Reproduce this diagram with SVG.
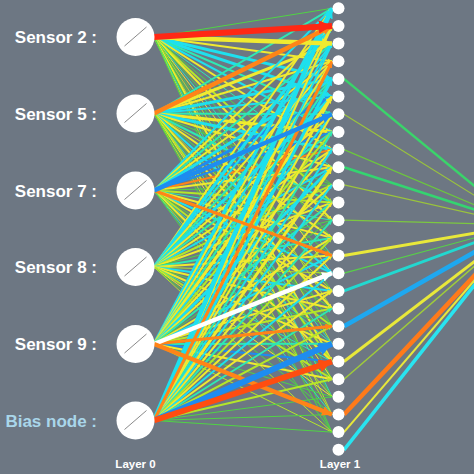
<svg xmlns="http://www.w3.org/2000/svg" width="474" height="474" viewBox="0 0 474 474">
<style>
.bg{fill:#6d7783}
.lbl{font-family:"Liberation Sans",Arial,sans-serif;font-weight:bold;font-size:17px;fill:#ffffff;text-anchor:end}
.bias{fill:#a9d6ea}
.lay{font-family:"Liberation Sans",Arial,sans-serif;font-weight:bold;font-size:11.5px;fill:#ffffff;text-anchor:middle}
.in0{fill:#ffffff}
.diag{stroke:#8a8a8a;stroke-width:1}
.hid{fill:#ffffff}
line{fill:none}
.y{stroke:#f0ea30}.yg{stroke:#b4e62a}.g{stroke:#50d444}.t{stroke:#2ee8b4}.c{stroke:#1ee0ee}
.b{stroke:#1e8cf0}.o{stroke:#ff8418}.r{stroke:#ff2814}.ro{stroke:#ff4d10}.w{stroke:#ffffff}
.in .y{marker-end:url(#m-y)}.in .yg{marker-end:url(#m-yg)}.in .g{marker-end:url(#m-g)}.in .t{marker-end:url(#m-t)}
.in .c{marker-end:url(#m-c)}.in .b{marker-end:url(#m-b)}.in .o{marker-end:url(#m-o)}.in .r{marker-end:url(#m-r)}
.in .ro{marker-end:url(#m-ro)}.in .w{marker-end:url(#m-w)}
.w1{stroke-width:1}.w2{stroke-width:2}.w3{stroke-width:3}.w4{stroke-width:4.5}.w6{stroke-width:6}
</style>
<defs>
<marker id="m-y" viewBox="0 0 10 10" refX="10" refY="5" markerWidth="2.2" markerHeight="2.2" orient="auto"><path d="M0,0L10,5L0,10z" fill="#f0ea30"/></marker>
<marker id="m-yg" viewBox="0 0 10 10" refX="10" refY="5" markerWidth="2.2" markerHeight="2.2" orient="auto"><path d="M0,0L10,5L0,10z" fill="#b4e62a"/></marker>
<marker id="m-g" viewBox="0 0 10 10" refX="10" refY="5" markerWidth="2.2" markerHeight="2.2" orient="auto"><path d="M0,0L10,5L0,10z" fill="#50d444"/></marker>
<marker id="m-t" viewBox="0 0 10 10" refX="10" refY="5" markerWidth="2.2" markerHeight="2.2" orient="auto"><path d="M0,0L10,5L0,10z" fill="#2ee8b4"/></marker>
<marker id="m-c" viewBox="0 0 10 10" refX="10" refY="5" markerWidth="2.2" markerHeight="2.2" orient="auto"><path d="M0,0L10,5L0,10z" fill="#1ee0ee"/></marker>
<marker id="m-b" viewBox="0 0 10 10" refX="10" refY="5" markerWidth="2.2" markerHeight="2.2" orient="auto"><path d="M0,0L10,5L0,10z" fill="#1e8cf0"/></marker>
<marker id="m-o" viewBox="0 0 10 10" refX="10" refY="5" markerWidth="2.2" markerHeight="2.2" orient="auto"><path d="M0,0L10,5L0,10z" fill="#ff8418"/></marker>
<marker id="m-r" viewBox="0 0 10 10" refX="10" refY="5" markerWidth="2.2" markerHeight="2.2" orient="auto"><path d="M0,0L10,5L0,10z" fill="#ff2814"/></marker>
<marker id="m-ro" viewBox="0 0 10 10" refX="10" refY="5" markerWidth="2.2" markerHeight="2.2" orient="auto"><path d="M0,0L10,5L0,10z" fill="#ff4d10"/></marker>
<marker id="m-w" viewBox="0 0 10 10" refX="10" refY="5" markerWidth="2.2" markerHeight="2.2" orient="auto"><path d="M0,0L10,5L0,10z" fill="#ffffff"/></marker>
</defs>
<rect class="bg" x="0" y="0" width="474" height="474"/>
<g id="connectors">
<g class="in">
<!-- Sensor 2 -->
<line class="g w1" x1="154" y1="37" x2="332" y2="8.3"/>
<line class="y w2" x1="154" y1="37" x2="332" y2="61.3"/>
<line class="c w3" x1="154" y1="37" x2="332" y2="78.9"/>
<line class="c w3" x1="154" y1="37" x2="332" y2="96.6"/>
<line class="t w2" x1="154" y1="37" x2="332" y2="114.3"/>
<line class="c w2" x1="154" y1="37" x2="332" y2="131.9"/>
<line class="y w2" x1="154" y1="37" x2="332" y2="149.6"/>
<line class="t w1" x1="154" y1="37" x2="332" y2="167.2"/>
<line class="g w1" x1="154" y1="37" x2="332" y2="184.9"/>
<line class="yg w2" x1="154" y1="37" x2="332" y2="202.6"/>
<line class="y w2" x1="154" y1="37" x2="332" y2="220.2"/>
<line class="g w1" x1="154" y1="37" x2="332" y2="237.9"/>
<line class="t w1" x1="154" y1="37" x2="332" y2="255.5"/>
<line class="y w1" x1="154" y1="37" x2="332" y2="273.2"/>
<line class="g w1" x1="154" y1="37" x2="332" y2="290.9"/>
<line class="yg w1" x1="154" y1="37" x2="332" y2="308.5"/>
<line class="g w1" x1="154" y1="37" x2="332" y2="326.2"/>
<line class="yg w1" x1="154" y1="37" x2="332" y2="343.8"/>
<line class="y w2" x1="154" y1="37" x2="332" y2="361.5"/>
<line class="g w1" x1="154" y1="37" x2="332" y2="379.2"/>
<line class="t w1" x1="154" y1="37" x2="332" y2="396.8"/>
<line class="yg w1" x1="154" y1="37" x2="332" y2="414.5"/>
<line class="g w1" x1="154" y1="37" x2="332" y2="432.1"/>
<!-- Sensor 5 -->
<line class="t w2" x1="154" y1="113.5" x2="332" y2="8.3"/>
<line class="y w3" x1="154" y1="113.5" x2="332" y2="43.6"/>
<line class="y w2" x1="154" y1="113.5" x2="332" y2="61.3"/>
<line class="c w3" x1="154" y1="113.5" x2="332" y2="78.9"/>
<line class="c w2" x1="154" y1="113.5" x2="332" y2="96.6"/>
<line class="t w2" x1="154" y1="113.5" x2="332" y2="114.3"/>
<line class="y w3" x1="154" y1="113.5" x2="332" y2="131.9"/>
<line class="c w3" x1="154" y1="113.5" x2="332" y2="149.6"/>
<line class="y w2" x1="154" y1="113.5" x2="332" y2="167.2"/>
<line class="g w1" x1="154" y1="113.5" x2="332" y2="184.9"/>
<line class="t w2" x1="154" y1="113.5" x2="332" y2="202.6"/>
<line class="yg w1" x1="154" y1="113.5" x2="332" y2="220.2"/>
<line class="y w2" x1="154" y1="113.5" x2="332" y2="237.9"/>
<line class="g w1" x1="154" y1="113.5" x2="332" y2="255.5"/>
<line class="c w2" x1="154" y1="113.5" x2="332" y2="273.2"/>
<line class="yg w1" x1="154" y1="113.5" x2="332" y2="290.9"/>
<line class="y w2" x1="154" y1="113.5" x2="332" y2="308.5"/>
<line class="g w1" x1="154" y1="113.5" x2="332" y2="326.2"/>
<line class="t w1" x1="154" y1="113.5" x2="332" y2="343.8"/>
<line class="yg w2" x1="154" y1="113.5" x2="332" y2="361.5"/>
<line class="y w1" x1="154" y1="113.5" x2="332" y2="379.2"/>
<line class="g w1" x1="154" y1="113.5" x2="332" y2="396.8"/>
<line class="yg w1" x1="154" y1="113.5" x2="332" y2="414.5"/>
<line class="g w1" x1="154" y1="113.5" x2="332" y2="432.1"/>
<!-- Sensor 7 -->
<line class="c w2" x1="154" y1="190.5" x2="332" y2="8.3"/>
<line class="y w2" x1="154" y1="190.5" x2="332" y2="26"/>
<line class="t w2" x1="154" y1="190.5" x2="332" y2="43.6"/>
<line class="y w2" x1="154" y1="190.5" x2="332" y2="61.3"/>
<line class="c w3" x1="154" y1="190.5" x2="332" y2="78.9"/>
<line class="b w3" x1="154" y1="190.5" x2="332" y2="96.6"/>
<line class="b w2" x1="154" y1="190.5" x2="332" y2="131.9"/>
<line class="o w2" x1="154" y1="190.5" x2="332" y2="149.6"/>
<line class="y w2" x1="154" y1="190.5" x2="332" y2="167.2"/>
<line class="g w1" x1="154" y1="190.5" x2="332" y2="184.9"/>
<line class="yg w2" x1="154" y1="190.5" x2="332" y2="202.6"/>
<line class="t w1" x1="154" y1="190.5" x2="332" y2="220.2"/>
<line class="y w2" x1="154" y1="190.5" x2="332" y2="237.9"/>
<line class="c w2" x1="154" y1="190.5" x2="332" y2="273.2"/>
<line class="y w2" x1="154" y1="190.5" x2="332" y2="290.9"/>
<line class="g w1" x1="154" y1="190.5" x2="332" y2="308.5"/>
<line class="yg w2" x1="154" y1="190.5" x2="332" y2="326.2"/>
<line class="t w1" x1="154" y1="190.5" x2="332" y2="343.8"/>
<line class="y w2" x1="154" y1="190.5" x2="332" y2="361.5"/>
<line class="g w1" x1="154" y1="190.5" x2="332" y2="379.2"/>
<line class="yg w1" x1="154" y1="190.5" x2="332" y2="396.8"/>
<line class="t w1" x1="154" y1="190.5" x2="332" y2="414.5"/>
<line class="g w1" x1="154" y1="190.5" x2="332" y2="432.1"/>
<!-- Sensor 8 -->
<line class="y w2" x1="154" y1="267" x2="332" y2="8.3"/>
<line class="c w3" x1="154" y1="267" x2="332" y2="26"/>
<line class="c w2" x1="154" y1="267" x2="332" y2="43.6"/>
<line class="y w2" x1="154" y1="267" x2="332" y2="61.3"/>
<line class="t w2" x1="154" y1="267" x2="332" y2="78.9"/>
<line class="c w3" x1="154" y1="267" x2="332" y2="96.6"/>
<line class="y w2" x1="154" y1="267" x2="332" y2="114.3"/>
<line class="t w2" x1="154" y1="267" x2="332" y2="131.9"/>
<line class="y w2" x1="154" y1="267" x2="332" y2="149.6"/>
<line class="c w2" x1="154" y1="267" x2="332" y2="167.2"/>
<line class="yg w2" x1="154" y1="267" x2="332" y2="184.9"/>
<line class="y w2" x1="154" y1="267" x2="332" y2="202.6"/>
<line class="g w1" x1="154" y1="267" x2="332" y2="220.2"/>
<line class="t w2" x1="154" y1="267" x2="332" y2="237.9"/>
<line class="y w2" x1="154" y1="267" x2="332" y2="255.5"/>
<line class="yg w1" x1="154" y1="267" x2="332" y2="273.2"/>
<line class="c w2" x1="154" y1="267" x2="332" y2="290.9"/>
<line class="y w2" x1="154" y1="267" x2="332" y2="308.5"/>
<line class="g w1" x1="154" y1="267" x2="332" y2="326.2"/>
<line class="y w2" x1="154" y1="267" x2="332" y2="343.8"/>
<line class="t w1" x1="154" y1="267" x2="332" y2="361.5"/>
<line class="yg w2" x1="154" y1="267" x2="332" y2="379.2"/>
<line class="y w1" x1="154" y1="267" x2="332" y2="396.8"/>
<line class="g w1" x1="154" y1="267" x2="332" y2="414.5"/>
<line class="yg w1" x1="154" y1="267" x2="332" y2="432.1"/>
<!-- Sensor 9 -->
<line class="c w3" x1="154" y1="344" x2="332" y2="8.3"/>
<line class="y w2" x1="154" y1="344" x2="332" y2="26"/>
<line class="c w2" x1="154" y1="344" x2="332" y2="43.6"/>
<line class="y w2" x1="154" y1="344" x2="332" y2="61.3"/>
<line class="t w2" x1="154" y1="344" x2="332" y2="78.9"/>
<line class="y w3" x1="154" y1="344" x2="332" y2="96.6"/>
<line class="c w2" x1="154" y1="344" x2="332" y2="114.3"/>
<line class="yg w2" x1="154" y1="344" x2="332" y2="131.9"/>
<line class="y w2" x1="154" y1="344" x2="332" y2="149.6"/>
<line class="c w3" x1="154" y1="344" x2="332" y2="167.2"/>
<line class="y w2" x1="154" y1="344" x2="332" y2="184.9"/>
<line class="t w2" x1="154" y1="344" x2="332" y2="202.6"/>
<line class="g w1" x1="154" y1="344" x2="332" y2="220.2"/>
<line class="y w2" x1="154" y1="344" x2="332" y2="237.9"/>
<line class="c w2" x1="154" y1="344" x2="332" y2="255.5"/>
<line class="y w2" x1="154" y1="344" x2="332" y2="290.9"/>
<line class="yg w2" x1="154" y1="344" x2="332" y2="308.5"/>
<line class="t w2" x1="154" y1="344" x2="332" y2="343.8"/>
<line class="b w2" x1="154" y1="344" x2="332" y2="361.5"/>
<line class="y w2" x1="154" y1="344" x2="332" y2="379.2"/>
<line class="g w1" x1="154" y1="344" x2="332" y2="396.8"/>
<line class="yg w1" x1="154" y1="344" x2="332" y2="432.1"/>
<!-- Bias node -->
<line class="y w2" x1="154" y1="420.5" x2="332" y2="26"/>
<line class="c w2" x1="154" y1="420.5" x2="332" y2="43.6"/>
<line class="c w3" x1="154" y1="420.5" x2="332" y2="78.9"/>
<line class="y w2" x1="154" y1="420.5" x2="332" y2="96.6"/>
<line class="y w2" x1="154" y1="420.5" x2="332" y2="114.3"/>
<line class="t w2" x1="154" y1="420.5" x2="332" y2="131.9"/>
<line class="c w2" x1="154" y1="420.5" x2="332" y2="149.6"/>
<line class="y w3" x1="154" y1="420.5" x2="332" y2="167.2"/>
<line class="c w2" x1="154" y1="420.5" x2="332" y2="184.9"/>
<line class="y w2" x1="154" y1="420.5" x2="332" y2="202.6"/>
<line class="t w2" x1="154" y1="420.5" x2="332" y2="220.2"/>
<line class="yg w2" x1="154" y1="420.5" x2="332" y2="237.9"/>
<line class="y w2" x1="154" y1="420.5" x2="332" y2="255.5"/>
<line class="c w2" x1="154" y1="420.5" x2="332" y2="273.2"/>
<line class="y w2" x1="154" y1="420.5" x2="332" y2="290.9"/>
<line class="t w2" x1="154" y1="420.5" x2="332" y2="308.5"/>
<line class="yg w2" x1="154" y1="420.5" x2="332" y2="326.2"/>
<line class="yg w2" x1="154" y1="420.5" x2="332" y2="379.2"/>
<line class="g w1" x1="154" y1="420.5" x2="332" y2="396.8"/>
<line class="g w1" x1="154" y1="420.5" x2="332" y2="414.5"/>
<line class="g w1" x1="154" y1="420.5" x2="332" y2="432.1"/>
<!-- strong weights -->
<line class="c w4" x1="154" y1="420.5" x2="332" y2="8.3"/>
<line class="o w3" x1="154" y1="420.5" x2="332" y2="61.3"/>
<line class="o w3" x1="154" y1="190.5" x2="332" y2="255.5"/>
<line class="b w4" x1="154" y1="190.5" x2="332" y2="114.3"/>
<line class="o w3" x1="154" y1="344" x2="332" y2="326.2"/>
<line class="w w4" x1="154" y1="344" x2="332" y2="273.2"/>
<line class="o w4" x1="154" y1="344" x2="332" y2="414.5"/>
<line class="y w4" x1="154" y1="37" x2="332" y2="43.6"/>
<line class="o w4" x1="154" y1="113.5" x2="332" y2="26"/>
<line class="r w6" x1="154" y1="37" x2="332" y2="26"/>
<line class="b w6" x1="154" y1="420.5" x2="332" y2="343.8"/>
<line class="ro w6" x1="154" y1="420.5" x2="332" y2="361.5"/>
</g>
<g class="out">
<line stroke="#3ad46a" stroke-width="2.5" x1="344" y1="78.9" x2="522" y2="225"/>
<line stroke="#9ac43c" stroke-width="1.2" x1="344" y1="114.3" x2="522" y2="225"/>
<line stroke="#6cc83c" stroke-width="1.2" x1="344" y1="149.6" x2="522" y2="225"/>
<line stroke="#34d470" stroke-width="2.5" x1="344" y1="167.2" x2="522" y2="225"/>
<line stroke="#9ac43c" stroke-width="1.2" x1="344" y1="184.9" x2="522" y2="225"/>
<line stroke="#7cc840" stroke-width="1.2" x1="344" y1="220.2" x2="522" y2="225"/>
<line stroke="#e8e83a" stroke-width="3" x1="344" y1="255.5" x2="522" y2="225"/>
<line stroke="#58d048" stroke-width="1.2" x1="344" y1="273.2" x2="522" y2="225"/>
<line stroke="#22d8d0" stroke-width="3" x1="344" y1="290.9" x2="522" y2="225"/>
<line stroke="#1ea8f0" stroke-width="4.5" x1="344" y1="326.2" x2="522" y2="225"/>
<line stroke="#e8e83a" stroke-width="3" x1="344" y1="361.5" x2="522" y2="225"/>
<line stroke="#a0cc3a" stroke-width="1.5" x1="344" y1="379.2" x2="522" y2="225"/>
<line stroke="#ff7a1a" stroke-width="4.5" x1="344" y1="414.5" x2="522" y2="225"/>
<line stroke="#e8e83a" stroke-width="2" x1="344" y1="432.1" x2="522" y2="225"/>
<line stroke="#28e4f0" stroke-width="3.5" x1="344" y1="449.8" x2="522" y2="225"/>
</g>
</g>
<g id="sensor2"><circle class="in0" cx="135.5" cy="37" r="19"/><line class="diag" x1="124.5" y1="46" x2="146.5" y2="27"/><text class="lbl" x="97" y="43">Sensor 2 :</text></g>
<g id="sensor5"><circle class="in0" cx="135.5" cy="113.5" r="19"/><line class="diag" x1="124.5" y1="122.5" x2="146.5" y2="103.5"/><text class="lbl" x="97" y="119.5">Sensor 5 :</text></g>
<g id="sensor7"><circle class="in0" cx="135.5" cy="190.5" r="19"/><line class="diag" x1="124.5" y1="199.5" x2="146.5" y2="180.5"/><text class="lbl" x="97" y="196.5">Sensor 7 :</text></g>
<g id="sensor8"><circle class="in0" cx="135.5" cy="267" r="19"/><line class="diag" x1="124.5" y1="276" x2="146.5" y2="257"/><text class="lbl" x="97" y="273">Sensor 8 :</text></g>
<g id="sensor9"><circle class="in0" cx="135.5" cy="344" r="19"/><line class="diag" x1="124.5" y1="353" x2="146.5" y2="334"/><text class="lbl" x="97" y="350">Sensor 9 :</text></g>
<g id="bias0"><circle class="in0" cx="135.5" cy="420.5" r="19"/><line class="diag" x1="124.5" y1="429.5" x2="146.5" y2="410.5"/><text class="lbl bias" x="97" y="427">Bias node :</text></g>
<g id="layer0-label"><text class="lay" x="135.5" y="468">Layer 0</text></g>
<g id="layer1">
<circle class="hid" cx="338.5" cy="8.3" r="6"/><circle class="hid" cx="338.5" cy="26" r="6"/><circle class="hid" cx="338.5" cy="43.6" r="6"/><circle class="hid" cx="338.5" cy="61.3" r="6"/><circle class="hid" cx="338.5" cy="78.9" r="6"/><circle class="hid" cx="338.5" cy="96.6" r="6"/><circle class="hid" cx="338.5" cy="114.3" r="6"/><circle class="hid" cx="338.5" cy="131.9" r="6"/><circle class="hid" cx="338.5" cy="149.6" r="6"/><circle class="hid" cx="338.5" cy="167.2" r="6"/><circle class="hid" cx="338.5" cy="184.9" r="6"/><circle class="hid" cx="338.5" cy="202.6" r="6"/><circle class="hid" cx="338.5" cy="220.2" r="6"/><circle class="hid" cx="338.5" cy="237.9" r="6"/><circle class="hid" cx="338.5" cy="255.5" r="6"/><circle class="hid" cx="338.5" cy="273.2" r="6"/><circle class="hid" cx="338.5" cy="290.9" r="6"/><circle class="hid" cx="338.5" cy="308.5" r="6"/><circle class="hid" cx="338.5" cy="326.2" r="6"/><circle class="hid" cx="338.5" cy="343.8" r="6"/><circle class="hid" cx="338.5" cy="361.5" r="6"/><circle class="hid" cx="338.5" cy="379.2" r="6"/><circle class="hid" cx="338.5" cy="396.8" r="6"/><circle class="hid" cx="338.5" cy="414.5" r="6"/><circle class="hid" cx="338.5" cy="432.1" r="6"/><circle class="hid" cx="338.5" cy="449.8" r="6"/>
<text class="lay" x="340" y="468">Layer 1</text>
</g>
</svg>
